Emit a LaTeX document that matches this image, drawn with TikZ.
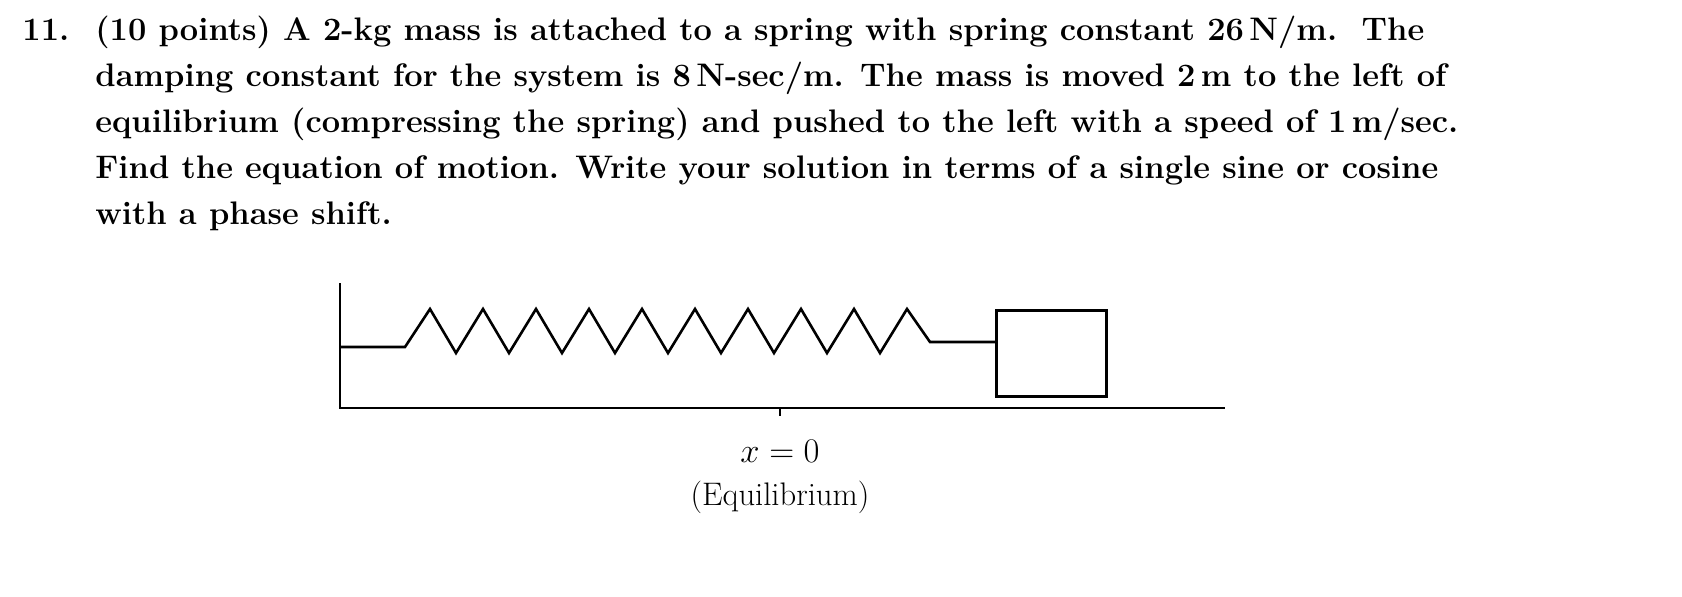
\documentclass[tikz,border=0pt]{standalone}
\begin{document}
\begin{tikzpicture}[x=0.5pt,y=-0.5pt,
  txt/.style={anchor=base west,inner sep=0,font=\fontsize{16.3}{20}\selectfont\bfseries},
  lbl/.style={anchor=base,inner sep=0,font=\fontsize{16.3}{20}\selectfont},
  ln/.style={line width=1.3pt,line join=miter}]
\useasboundingbox (0,0) rectangle (1682,596);
\fill[white] (0,0) rectangle (1682,596);
\node[txt] (n) at (22,40) {11.};
\node[txt] (l1) at (95,40) {(10 points) A 2-kg mass is attached to a spring with spring constant 26\,N/m.\ \ The};
\node[txt] (l2) at (95,86) {damping constant for the system is 8\,N-sec/m. The mass is moved 2\,m to the left of};
\node[txt] (l3) at (95,132) {equilibrium (compressing the spring) and pushed to the left with a speed of 1\,m/sec.};
\node[txt] (l4) at (95,178) {Find the equation of motion. Write your solution in terms of a single sine or cosine};
\node[txt] (l5) at (95,224) {with a phase shift.};
\coordinate (wt) at (340,283);
\coordinate (wb) at (340,408);
\coordinate (ge) at (1225,408);
\draw[ln] (wt) -- (wb) -- (ge);
\node[draw,line width=1.3pt,minimum width=55pt,minimum height=43pt,inner sep=0,anchor=north west] (box) at (995,309) {};
\draw[ln] (340,347) -- (405,347)
  \foreach \i in {0,...,8}{ -- ({430+53*\i},309) -- ({456+53*\i},353) }
  -- (907,309) -- (930,342) -- (box.west|-0,342);
\draw[ln] (780,408) -- (780,416);
\node[lbl] (x0) at (780,462) {$x=0$};
\node[lbl] (eq) at (780,505) {(Equilibrium)};
\end{tikzpicture}
\end{document}
